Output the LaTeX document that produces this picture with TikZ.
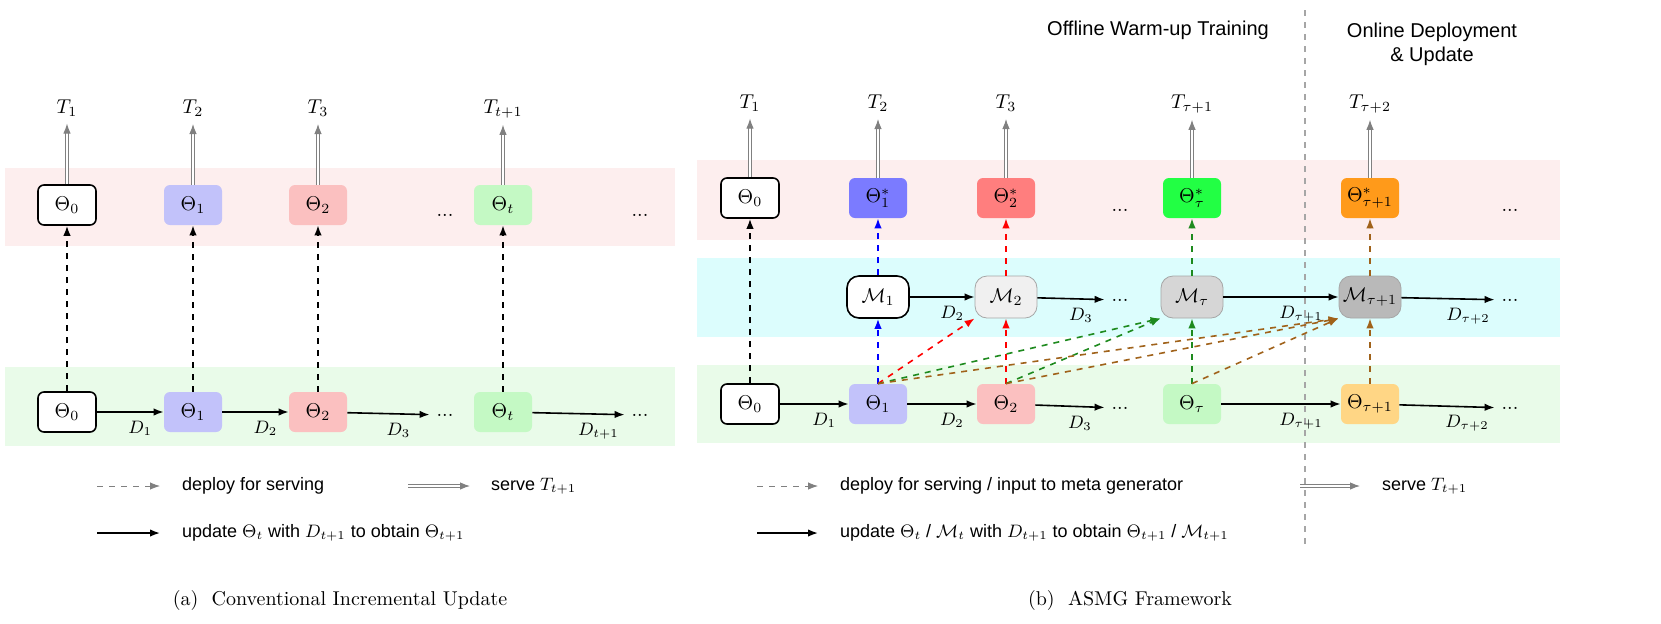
\documentclass[tikz,border=0pt]{standalone}
\usepackage{fontspec}
\newfontfamily\sff{Liberation Sans}
\usetikzlibrary{arrows.meta}
\definecolor{bpink}{HTML}{FDEEEE}\definecolor{bcyan}{HTML}{DCFDFD}\definecolor{bgreen}{HTML}{E9FBE9}
\definecolor{lav}{HTML}{C2C2FA}\definecolor{lpink}{HTML}{FBC0C0}\definecolor{lgreen}{HTML}{C4F9C4}\definecolor{lorange}{HTML}{FFD685}
\definecolor{sblue}{HTML}{7B7BFF}\definecolor{sred}{HTML}{FF7E7E}\definecolor{sgreen}{HTML}{22FF44}\definecolor{sorange}{HTML}{FF9A1A}
\definecolor{brn}{HTML}{A0621A}\definecolor{dgreen}{HTML}{1E8A1E}
\begin{document}
\begin{tikzpicture}[x=0.5pt,y=-0.5pt,
 th/.style={draw=none,rounded corners=3pt,minimum width=29pt,minimum height=20pt,inner sep=0pt},
 wth/.style={th,draw=black,thick},
 mm/.style={rounded corners=6pt,minimum width=31pt,minimum height=21pt,inner sep=0pt,draw=gray!70},
 up/.style={-{Latex[length=5pt]},double=white,draw=gray,double distance=1.2pt,line width=0.5pt},
 dep/.style={-{Latex[length=5pt]},dashed,thick},
 upd/.style={-{Latex[length=5pt]},thick},
 lab/.style={font=\small},
 dl/.style={lab,anchor=north,yshift=-1pt,xshift=5pt},
 dw/.style={lab,anchor=north,yshift=-1pt,xshift=10pt},
 leg/.style={font=\sff\small,anchor=west}]
\useasboundingbox (0,0) rectangle (1661,623);
% ---------- left ----------
\fill[bpink] (5,168) rectangle (675,246);
\fill[bgreen] (5,367) rectangle (675,446);
\foreach \n/\x/\c/\s in {a/67/white/wth,b/193/lav/th,c/318/lpink/th,d/503/lgreen/th}{
 \node[\s,fill=\c] (L\n) at (\x,205) {};
 \node[\s,fill=\c] (B\n) at (\x,412) {};}
\node at (La) {$\Theta_0$};\node at (Lb) {$\Theta_1$};\node at (Lc) {$\Theta_2$};\node at (Ld) {$\Theta_t$};
\node at (Ba) {$\Theta_0$};\node at (Bb) {$\Theta_1$};\node at (Bc) {$\Theta_2$};\node at (Bd) {$\Theta_t$};
\node (Ldots1) at (445,215) {...};\node (Ldots2) at (640,215) {...};
\node (Bdots1) at (445,415) {...};\node (Bdots2) at (640,415) {...};
\foreach \n/\t in {a/T_1,b/T_2,c/T_3,d/T_{t+1}}{
 \node (T\n) at ([yshift=38pt]L\n.north) {$\t$};
 \draw[up] (L\n.north) -- (T\n.south);
 \draw[dep] (B\n) -- (L\n);}
\draw[upd] (Ba) -- node[dl]{$D_1$} (Bb);
\draw[upd] (Bb) -- node[dl]{$D_2$} (Bc);
\draw[upd] (Bc) -- node[dl]{$D_3$} (Bdots1);
\draw[upd] (Bd) -- node[dw]{$D_{t+1}$} (Bdots2);
\coordinate (la1) at (97,486);\coordinate (la2) at (160,486);
\draw[-{Latex[length=5pt]},dashed,gray] (la1) -- (la2);
\node[leg] at (175,486) {deploy for serving};
\coordinate (la3) at (408,486);\coordinate (la4) at (470,486);
\draw[up] (la3) -- (la4);
\node[leg] at (484,486) {serve $T_{t+1}$};
\coordinate (la5) at (97,533);\coordinate (la6) at (160,533);
\draw[upd] (la5) -- (la6);
\node[leg] at (175,533) {update $\Theta_t$ with $D_{t+1}$ to obtain $\Theta_{t+1}$};
\node at (340,600) {(a)\ \ Conventional Incremental Update};
% ---------- right ----------
\fill[bpink] (697,160) rectangle (1560,240);
\fill[bcyan] (697,258) rectangle (1560,337);
\fill[bgreen] (697,365) rectangle (1560,443);
\draw[gray!70,dashed,thick] (1305,10) -- (1305,545);
\node[font=\sff] at (1158,30) {Offline Warm-up Training};
\node[font=\sff,align=center] at (1432,44) {Online Deployment\\\& Update};
\node[wth,fill=white] (R0) at (750,198) {$\Theta_0$};
\node[th,fill=sblue] (R1) at (878,198) {$\Theta^*_1$};
\node[th,fill=sred] (R2) at (1006,198) {$\Theta^*_2$};
\node[th,fill=sgreen] (R3) at (1192,198) {$\Theta^*_\tau$};
\node[th,fill=sorange] (R4) at (1370,198) {$\Theta^*_{\tau+1}$};
\node (Rd1) at (1120,210) {...};\node (Rd2) at (1510,210) {...};
\foreach \n/\t in {0/T_1,1/T_2,2/T_3,3/T_{\tau+1},4/T_{\tau+2}}{
 \node (RT\n) at ([yshift=37pt]R\n.north) {$\t$};
 \draw[up] (R\n.north) -- (RT\n.south);}
\node[mm,draw=black,thick,fill=white] (M1) at (878,297) {$\mathcal{M}_1$};
\node[mm,fill=gray!12] (M2) at (1006,297) {$\mathcal{M}_2$};
\node[mm,fill=gray!32] (M3) at (1192,297) {$\mathcal{M}_\tau$};
\node[mm,fill=gray!55] (M4) at (1370,297) {$\mathcal{M}_{\tau+1}$};
\node (Md1) at (1120,300) {...};\node (Md2) at (1510,300) {...};
\node[wth,fill=white] (G0) at (750,404) {$\Theta_0$};
\node[th,fill=lav] (G1) at (878,404) {$\Theta_1$};
\node[th,fill=lpink] (G2) at (1006,404) {$\Theta_2$};
\node[th,fill=lgreen] (G3) at (1192,404) {$\Theta_\tau$};
\node[th,fill=lorange] (G4) at (1370,404) {$\Theta_{\tau+1}$};
\node (Gd1) at (1120,408) {...};\node (Gd2) at (1510,408) {...};
\draw[upd] (M1) -- node[dl]{$D_2$} (M2);
\draw[upd] (M2) -- node[dl]{$D_3$} (Md1);
\draw[upd] (M3) -- node[dw]{$D_{\tau+1}$} (M4);
\draw[upd] (M4) -- node[dw]{$D_{\tau+2}$} (Md2);
\draw[upd] (G0) -- node[dl]{$D_1$} (G1);
\draw[upd] (G1) -- node[dl]{$D_2$} (G2);
\draw[upd] (G2) -- node[dl]{$D_3$} (Gd1);
\draw[upd] (G3) -- node[dw]{$D_{\tau+1}$} (G4);
\draw[upd] (G4) -- node[dw]{$D_{\tau+2}$} (Gd2);
\draw[dep] (G0) -- (R0);
\draw[dep,blue] (G1) -- (M1);\draw[dep,blue] (M1) -- (R1);
\draw[dep,red] (G1.north) -- (M2.south west);\draw[dep,red] (G2) -- (M2);\draw[dep,red] (M2) -- (R2);
\draw[dep,dgreen] (G1.north) -- (M3.south west);\draw[dep,dgreen] (G2.north) -- (M3.south west);
\draw[dep,dgreen] (G3) -- (M3);\draw[dep,dgreen] (M3) -- (R3);
\draw[dep,brn] (G1.north) -- (M4.south west);\draw[dep,brn] (G2.north) -- (M4.south west);
\draw[dep,brn] (G3.north) -- (M4.south west);\draw[dep,brn] (G4) -- (M4);\draw[dep,brn] (M4) -- (R4);
\coordinate (lb1) at (757,486);\coordinate (lb2) at (818,486);
\draw[-{Latex[length=5pt]},dashed,gray] (lb1) -- (lb2);
\node[leg] at (833,486) {deploy for serving / input to meta generator};
\coordinate (lb3) at (1300,486);\coordinate (lb4) at (1360,486);
\draw[up] (lb3) -- (lb4);
\node[leg] at (1375,486) {serve $T_{t+1}$};
\coordinate (lb5) at (757,533);\coordinate (lb6) at (818,533);
\draw[upd] (lb5) -- (lb6);
\node[leg] at (833,533) {update $\Theta_t$ / $\mathcal{M}_t$ with $D_{t+1}$ to obtain $\Theta_{t+1}$ / $\mathcal{M}_{t+1}$};
\node at (1130,600) {(b)\ \ ASMG Framework};
\end{tikzpicture}
\end{document}
